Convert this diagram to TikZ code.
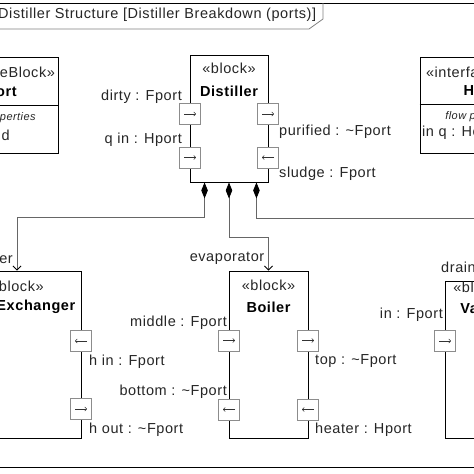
\documentclass[tikz,border=0pt]{standalone}
\usepackage{fontspec}
\setmainfont{Liberation Sans}[LetterSpace=4]
\usetikzlibrary{arrows.meta,calc}
\newcommand\fsz{\fontsize{14.5}{16}\selectfont}
\newcommand\fsm{\fontsize{11}{13}\selectfont}
\begin{document}
\begin{tikzpicture}[x=1pt,y=-1pt,
  blk/.style={draw=black, line width=0.9pt, fill=white, inner sep=0pt},
  lbl/.style={font=\fsz, text=black!85, inner sep=0pt},
  nm/.style={font=\fsz\bfseries, text=black, inner sep=0pt},
  sm/.style={font=\fsm\itshape, text=black!85, inner sep=0pt},
  port/.style={draw=black!45, line width=0.8pt, fill=white, minimum size=21pt, inner sep=0pt},
  pR/.style={port, path picture={\draw[black!80, line width=0.6pt,-{To[length=2.5pt,width=4.5pt]}] ([xshift=-6pt]path picture bounding box.center) -- ([xshift=6pt]path picture bounding box.center);}},
  pL/.style={port, path picture={\draw[black!80, line width=0.6pt,-{To[length=2.5pt,width=4.5pt]}] ([xshift=6pt]path picture bounding box.center) -- ([xshift=-6pt]path picture bounding box.center);}},
  comp/.style={draw=black!60, line width=0.8pt, {Diamond[length=16pt,width=6.5pt,fill=black,black]}-{Straight Barb[length=4pt,width=8pt,black]}}
]
\useasboundingbox (0,0) rectangle (474,474);
\clip (0,0) rectangle (474,474);
\fill[white] (0,0) rectangle (474,474);

% frame
\draw[line width=0.9pt] (-80,3) rectangle (560,467);
\draw[draw=black!50, line width=0.8pt] (-80,29) -- (309,29) -- (323,19) -- (323,3);
\node[lbl, anchor=west] (title) at (-2,15) {Distiller Structure [Distiller Breakdown (ports)]};

% Fport interface block (top left)
\node[blk, minimum width=122pt, minimum height=96pt] (fport) at (-3,105) {};
\draw[line width=0.9pt] ($(fport.north west)+(0,49)$) -- ($(fport.north east)+(0,49)$);
\node[lbl] (fportst) at (-3,72) {«interfaceBlock»};
\node[nm] (fportnm) at (-3,93) {Fport};
\node[sm] (fportfp) at (-3,118) {flow properties};
\node[lbl, anchor=east] (fportfl) at (10,135) {inout fluid : Fluid};

% Hport interface block (top right)
\node[blk, minimum width=128pt, minimum height=96pt] (hport) at (484,105) {};
\draw[line width=0.9pt] ($(hport.north west)+(0,48)$) -- ($(hport.north east)+(0,48)$);
\node[lbl] (hportst) at (484,72) {«interfaceBlock»};
\node[nm] (hportnm) at (484,92) {Hport};
\node[sm] (hportfp) at (484,117) {flow properties};
\node[lbl, anchor=west] (hportfl) at (422,133) {in q : Heat};

% Distiller
\node[blk, minimum width=78pt, minimum height=127pt] (dist) at (229,118.5) {};
\node[lbl] (distst) at (229,68) {«block»};
\node[nm] (distnm) at (229,91) {Distiller};
\node[pR] (dirty) at (190,114) {};
\node[pR] (qin) at (190,157.5) {};
\node[pR] (purified) at (268,114) {};
\node[pL] (sludge) at (268,157.5) {};
\node[lbl, anchor=east] (dirtyl) at (182,97) {dirty : Fport};
\node[lbl, anchor=east] (qinl) at (182,140) {q in : Hport};
\node[lbl, anchor=west] (purifiedl) at (279,132) {purified : \textasciitilde Fport};
\node[lbl, anchor=west] (sludgel) at (279,174) {sludge : Fport};

% Heat Exchanger
\node[blk, minimum width=128pt, minimum height=167pt] (hx) at (17,354.5) {};
\node[lbl] (hxst) at (17,286) {«block»};
\node[nm] (hxnm) at (17,307) {Heat Exchanger};
\node[pL] (hin) at (81,341) {};
\node[pR] (hout) at (81,409) {};
\node[lbl, anchor=west] (hinl) at (89,362) {h in : Fport};
\node[lbl, anchor=west] (houtl) at (89,430) {h out : \textasciitilde Fport};

% Boiler
\node[blk, minimum width=79pt, minimum height=167pt] (boil) at (268.5,354.5) {};
\node[lbl] (boilst) at (268.5,285) {«block»};
\node[nm] (boilnm) at (268.5,307) {Boiler};
\node[pR] (middle) at (229,340.5) {};
\node[pL] (bottom) at (229,409.5) {};
\node[pR] (top) at (308,340.5) {};
\node[pL] (heater) at (308,409.5) {};
\node[lbl, anchor=east] (middlel) at (227,323) {middle : Fport};
\node[lbl, anchor=east] (bottoml) at (227,392) {bottom : \textasciitilde Fport};
\node[lbl, anchor=west] (topl) at (315,361) {top : \textasciitilde Fport};
\node[lbl, anchor=west] (heaterl) at (315,430) {heater : Hport};

% Valve
\node[blk, minimum width=70pt, minimum height=157pt] (valve) at (480,359.5) {};
\node[lbl] (valvest) at (480,287) {«block»};
\node[nm] (valvenm) at (480,308) {Valve};
\node[pR] (vin) at (445,341) {};
\node[lbl, anchor=east] (vinl) at (443,315) {in : Fport};

% composition connectors
\draw[comp] ($(dist.south west)+(15,0)$) -- ++(0,35) -| (hx.north);
\draw[comp] (dist.south) -- ++(0,55) -| (boil.north);
\draw[comp] ($(dist.south east)+(-12,0)$) -- ++(0,36) -| (valve.north);

% role labels
\node[lbl, anchor=east] (condl) at ($(hx.north)+(-4,-12)$) {condenser};
\node[lbl, anchor=east] (evapl) at ($(boil.north)+(-4,-12)$) {evaporator};
\node[lbl, anchor=east] (drainl) at ($(valve.north)+(-4,-13)$) {drain};
\end{tikzpicture}
\end{document}
